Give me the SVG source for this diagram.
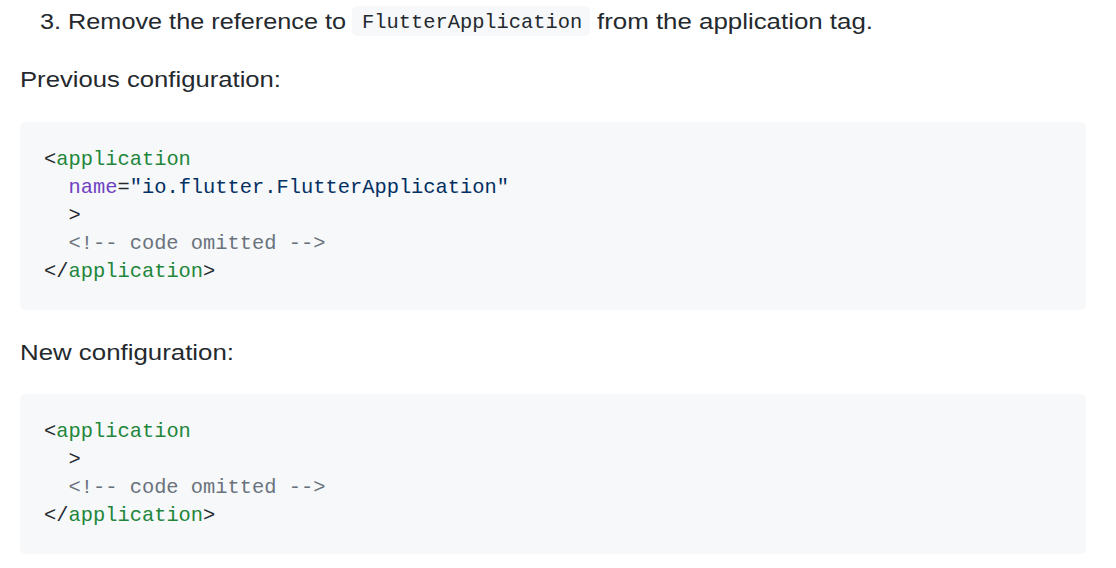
<svg xmlns="http://www.w3.org/2000/svg" width="1116" height="568" viewBox="0 0 1116 568">
<style>
.s{font-family:"Liberation Sans",Arial,sans-serif;font-size:22px;fill:#24292e}
.m{font-family:"Liberation Mono","DejaVu Sans Mono",monospace;font-size:20.4px;fill:#24292e;white-space:pre}
.g{fill:#22863a}.p{fill:#6f42c1}.b{fill:#032f62}.c{fill:#6a737d}
.box{fill:#f6f8fa}
</style>
<rect width="1116" height="568" fill="#fff"/>
<rect class="box" x="352" y="6" width="238" height="30" rx="5"/>
<text class="s" x="40" y="29" textLength="306" lengthAdjust="spacingAndGlyphs">3. Remove the reference to</text>
<text class="m" x="362" y="28">FlutterApplication</text>
<text class="s" x="597" y="29" textLength="276" lengthAdjust="spacingAndGlyphs">from the application tag.</text>
<text class="s" x="20" y="87" textLength="261" lengthAdjust="spacingAndGlyphs">Previous configuration:</text>
<rect class="box" x="20" y="122" width="1066" height="188" rx="5"/>
<text class="m" x="44" y="165">&lt;<tspan class="g">application</tspan></text>
<text class="m" x="44" y="193">  <tspan class="p">name</tspan>=<tspan class="b">"io.flutter.FlutterApplication"</tspan></text>
<text class="m" x="44" y="221">  &gt;</text>
<text class="m c" x="44" y="249">  &lt;!-- code omitted --&gt;</text>
<text class="m" x="44" y="277">&lt;/<tspan class="g">application</tspan>&gt;</text>
<text class="s" x="20" y="360" textLength="214" lengthAdjust="spacingAndGlyphs">New configuration:</text>
<rect class="box" x="20" y="394" width="1066" height="160" rx="5"/>
<text class="m" x="44" y="437">&lt;<tspan class="g">application</tspan></text>
<text class="m" x="44" y="465">  &gt;</text>
<text class="m c" x="44" y="493">  &lt;!-- code omitted --&gt;</text>
<text class="m" x="44" y="521">&lt;/<tspan class="g">application</tspan>&gt;</text>
</svg>
